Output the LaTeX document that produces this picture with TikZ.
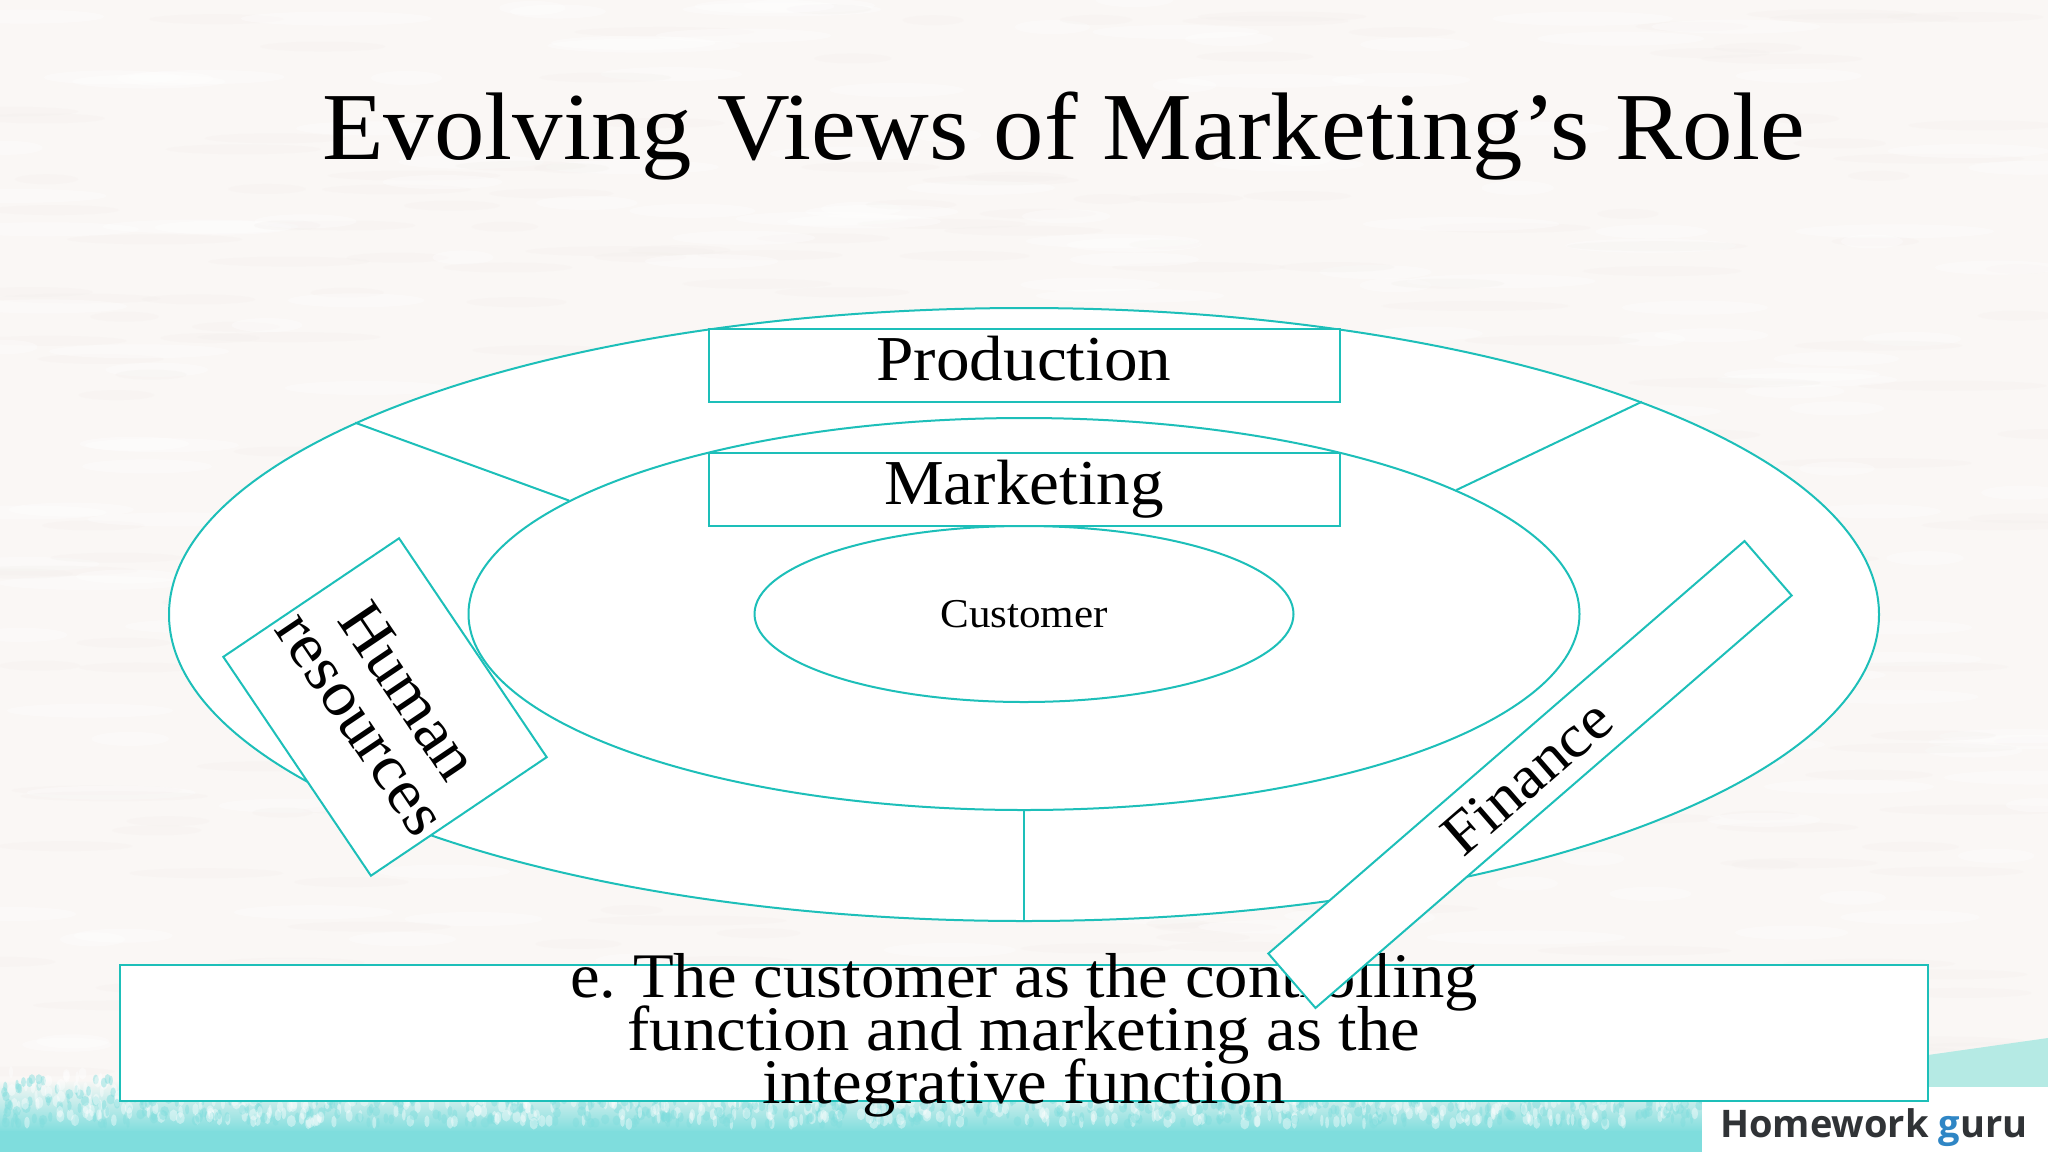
\documentclass[tikz,border=0pt]{standalone}
\usepackage{fontspec}
\setmainfont[FakeStretch=1.05]{Liberation Serif}
\newfontfamily\markfont{Open Sans}
\usetikzlibrary{calc, positioning, shapes.geometric}
\definecolor{paper}{HTML}{FAF7F5}
\definecolor{paperdark}{HTML}{F3EFEC}
\definecolor{tealline}{HTML}{1DBFB9}
\definecolor{washteal}{HTML}{7FDDDD}
\definecolor{palewash}{HTML}{B5EAE4}
\definecolor{markblue}{HTML}{2F86C5}
\definecolor{markdark}{HTML}{303336}
\tikzset{
	ring/.style={ellipse, draw=tealline, line width=2pt, fill=white, inner sep=0pt},
	spoke/.style={draw=tealline, line width=2pt},
	labelbox/.style={rectangle, draw=tealline, line width=2pt, fill=white, inner sep=0pt, align=center},
}
\newcommand{\fsize}[2]{\fontsize{#1}{#2}\selectfont\lineskiplimit=-200pt\frenchspacing}

\begin{document}
\begin{tikzpicture}[x=1pt,y=-1pt]

		%paper and the wash along the bottom edge
		\fill[paper] (0,0) rectangle (2048,1152);
		\useasboundingbox (0,0) rectangle (2048,1152);
		\pgfmathsetseed{11}
		\foreach \i in {1,...,260}{
			\pgfmathsetmacro{\px}{rnd*2048}
			\pgfmathsetmacro{\py}{rnd*1100}
			\pgfmathsetmacro{\pw}{30+rnd*70}
			\fill[paperdark, opacity=0.25] (\px,\py) ellipse ({\pw pt} and 5pt);
			\pgfmathsetmacro{\qx}{rnd*2048}
			\pgfmathsetmacro{\qy}{rnd*1100}
			\fill[white, opacity=0.35] (\qx,\qy) ellipse ({\pw pt} and 7pt);
		}
		\fill[top color=paper, bottom color=washteal] (0,1080) rectangle (2048,1132);
		\fill[washteal] (0,1131) rectangle (2048,1152);
		\foreach \i in {1,...,900}{
			\pgfmathsetmacro{\px}{rnd*2048}
			\pgfmathsetmacro{\py}{1072+rnd*52}
			\pgfmathsetmacro{\pw}{1.5+rnd*3}
			\fill[white, opacity=0.4] (\px,\py) ellipse ({\pw pt} and 6pt);
			\pgfmathsetmacro{\qx}{rnd*2048}
			\pgfmathsetmacro{\qy}{1078+rnd*46}
			\fill[washteal, opacity=0.45] (\qx,\qy) ellipse ({\pw pt} and 5pt);
		}
		\fill[palewash] (1928,1055) -- (2048,1038) -- (2048,1087) -- (1928,1087) -- cycle;

		%the three rings
		\node[ring, minimum width=1710pt, minimum height=613pt] (outerring) at (1024,614.5) {};
		\node[ring, minimum width=1111pt, minimum height=392pt] (midring) at (1024,614) {};
		\draw[spoke] (outerring.164.35) -- (midring.166.55);
		\draw[spoke] (outerring.19.35) -- (midring.16.8);
		\draw[spoke] (outerring.south) -- (midring.south);
		\node[ring, minimum width=539pt, minimum height=176pt, font=\fsize{41}{41}] (innerring) at (1024,614) {Customer};

		%function boxes
		\node[labelbox, minimum width=631pt, minimum height=73pt] (production) at (1024,365.5) {};
		\node[labelbox, minimum width=631pt, minimum height=73pt] (marketing) at (1024,489.5) {};
		\node[anchor=base, font=\fsize{64}{64}] (productionlabel) at (1024,380) {Production};
		\node[anchor=base, font=\fsize{64}{64}] (marketinglabel) at (1024,504) {Marketing};

		\node[labelbox, rotate=-56, minimum width=264pt, minimum height=212pt, font=\fsize{64}{57}] (hrbox) at (385,707) {Human\\resources};

		%bottom caption goes under the finance box
		\node[labelbox, minimum width=1808pt, minimum height=136pt] (captionbox) at (1024,1033) {};
		\node[align=center, font=\fsize{63.5}{53}] (caption) at (1024,1035) {e. The customer as the controlling\\function and marketing as the\\integrative function};

		\node[labelbox, rotate=40.9, minimum width=630pt, minimum height=72pt, font=\fsize{61}{61}] (financebox) at (1530,774.5) {Finance\hspace*{8pt}};

		\node[anchor=base, font=\fsize{96}{96}] (title) at (1064,159) {Evolving Views of Marketing’s Role};

		%watermark patch
		\fill[white] (1702,1102) rectangle (2048,1152);
		\fill[white] (1929,1087) rectangle (2048,1103);
		\node[anchor=base west, inner sep=0pt, font=\markfont\bfseries\fsize{38}{38}] (watermark) at (1720,1137) {\textcolor{markdark}{Homework \textcolor{markblue}{g}uru}};

	\end{tikzpicture}
\end{document}
